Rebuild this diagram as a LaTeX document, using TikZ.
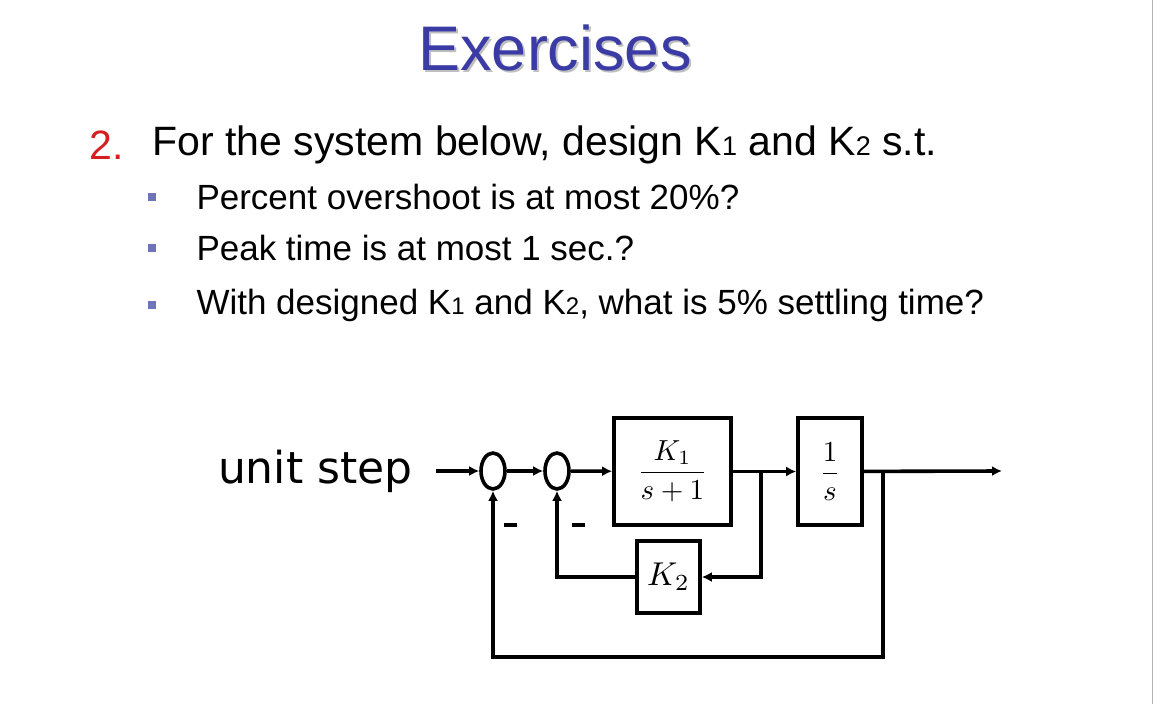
\documentclass[tikz,border=0pt]{standalone}
\usepackage{fontspec}
\setmainfont{Liberation Sans}
\newfontfamily\dvs{DejaVu Sans}
\usetikzlibrary{arrows.meta,shapes.geometric}
\definecolor{titleblue}{HTML}{3B3BA6}
\definecolor{bulletblue}{HTML}{6F74B8}
\definecolor{numred}{HTML}{D42020}
\newcommand{\sm}[1]{{\fontsize{27}{27}\selectfont #1}}
\newcommand{\smb}[1]{{\fontsize{24}{24}\selectfont #1}}
\tikzset{
  x=1pt,y=-1pt,
  blk/.style={draw,line width=3.6pt,inner sep=0pt},
  sumj/.style={draw,line width=3.6pt,ellipse,minimum width=24pt,minimum height=36pt,inner sep=0pt},
  wire/.style={line width=3.6pt},
  arr/.style={wire,-{Latex[length=10pt,width=10pt]}},
  bul/.style={fill=bulletblue,minimum size=8pt,inner sep=0pt},
  line/.style={anchor=west,font=\fontsize{35}{35}\selectfont},
}
\begin{document}
\begin{tikzpicture}
\useasboundingbox[fill=white] (0,0) rectangle (1173,704);
\draw[gray!60,line width=1pt] (1152,0) -- (1152,704);
% title
\node[text=gray!50,font=\fontsize{63}{63}\selectfont] at (557,50) {Exercises};
\node (title)[text=titleblue,font=\fontsize{63}{63}\selectfont] at (555,48) {Exercises};
% question
\node (num)[anchor=west,text=numred,font=\fontsize{41}{41}\selectfont] at (86,145) {2.};
\node (q)[anchor=west,font=\fontsize{41}{41}\selectfont] at (149,145) {For the system below, design K\sm{1} and K\sm{2} s.t.};
\node (b1)[bul] at (152,197) {};
\node (b2)[bul] at (152,248) {};
\node (b3)[bul] at (152,305) {};
\node (l1)[line] at (193,197) {Percent overshoot is at most 20\%?};
\node (l2)[line] at (193,248) {Peak time is at most 1 sec.?};
\node (l3)[line] at (193,305) {With designed K\smb{1} and K\smb{2}, what is 5\% settling time?};
% diagram
\node (us)[anchor=east,font=\dvs\fontsize{44}{44}\selectfont] at (416,471) {unit step};
\coordinate (in) at (436,471);
\node (s1)[sumj] at (493,471) {};
\node (s2)[sumj] at (557,471) {};
\node (g1)[blk,minimum width=117pt,minimum height=107pt] at (672.5,471.5) {\scalebox{2.9}{$\displaystyle\frac{K_1}{s+1}$}};
\node (g2)[blk,minimum width=64pt,minimum height=107pt] at (830,471.5) {\scalebox{2.9}{$\displaystyle\frac{1}{s}$}};
\node (k2)[blk,minimum width=63pt,minimum height=72pt] at (668.5,577) {\scalebox{3.3}{$K_2$}};
\coordinate (out) at (1002,471);
\coordinate (p1) at (761,471);
\coordinate (p2) at (883,471);
\draw[arr] (in) -- (s1);
\draw[arr] (s1) -- (s2);
\draw[arr] (s2) -- (g1);
\draw[arr] (g1) -- (g2);
\draw[arr] (g2) -- (out);
\draw[arr] (p1) |- (k2);
\draw[arr] (k2) -| (s2.south);
\draw[arr] (p2) |- (493,657) -- (s1.south);
\draw[wire] (504,525) -- (517,525);
\draw[wire] (572,525) -- (585,525);
\end{tikzpicture}
\end{document}
